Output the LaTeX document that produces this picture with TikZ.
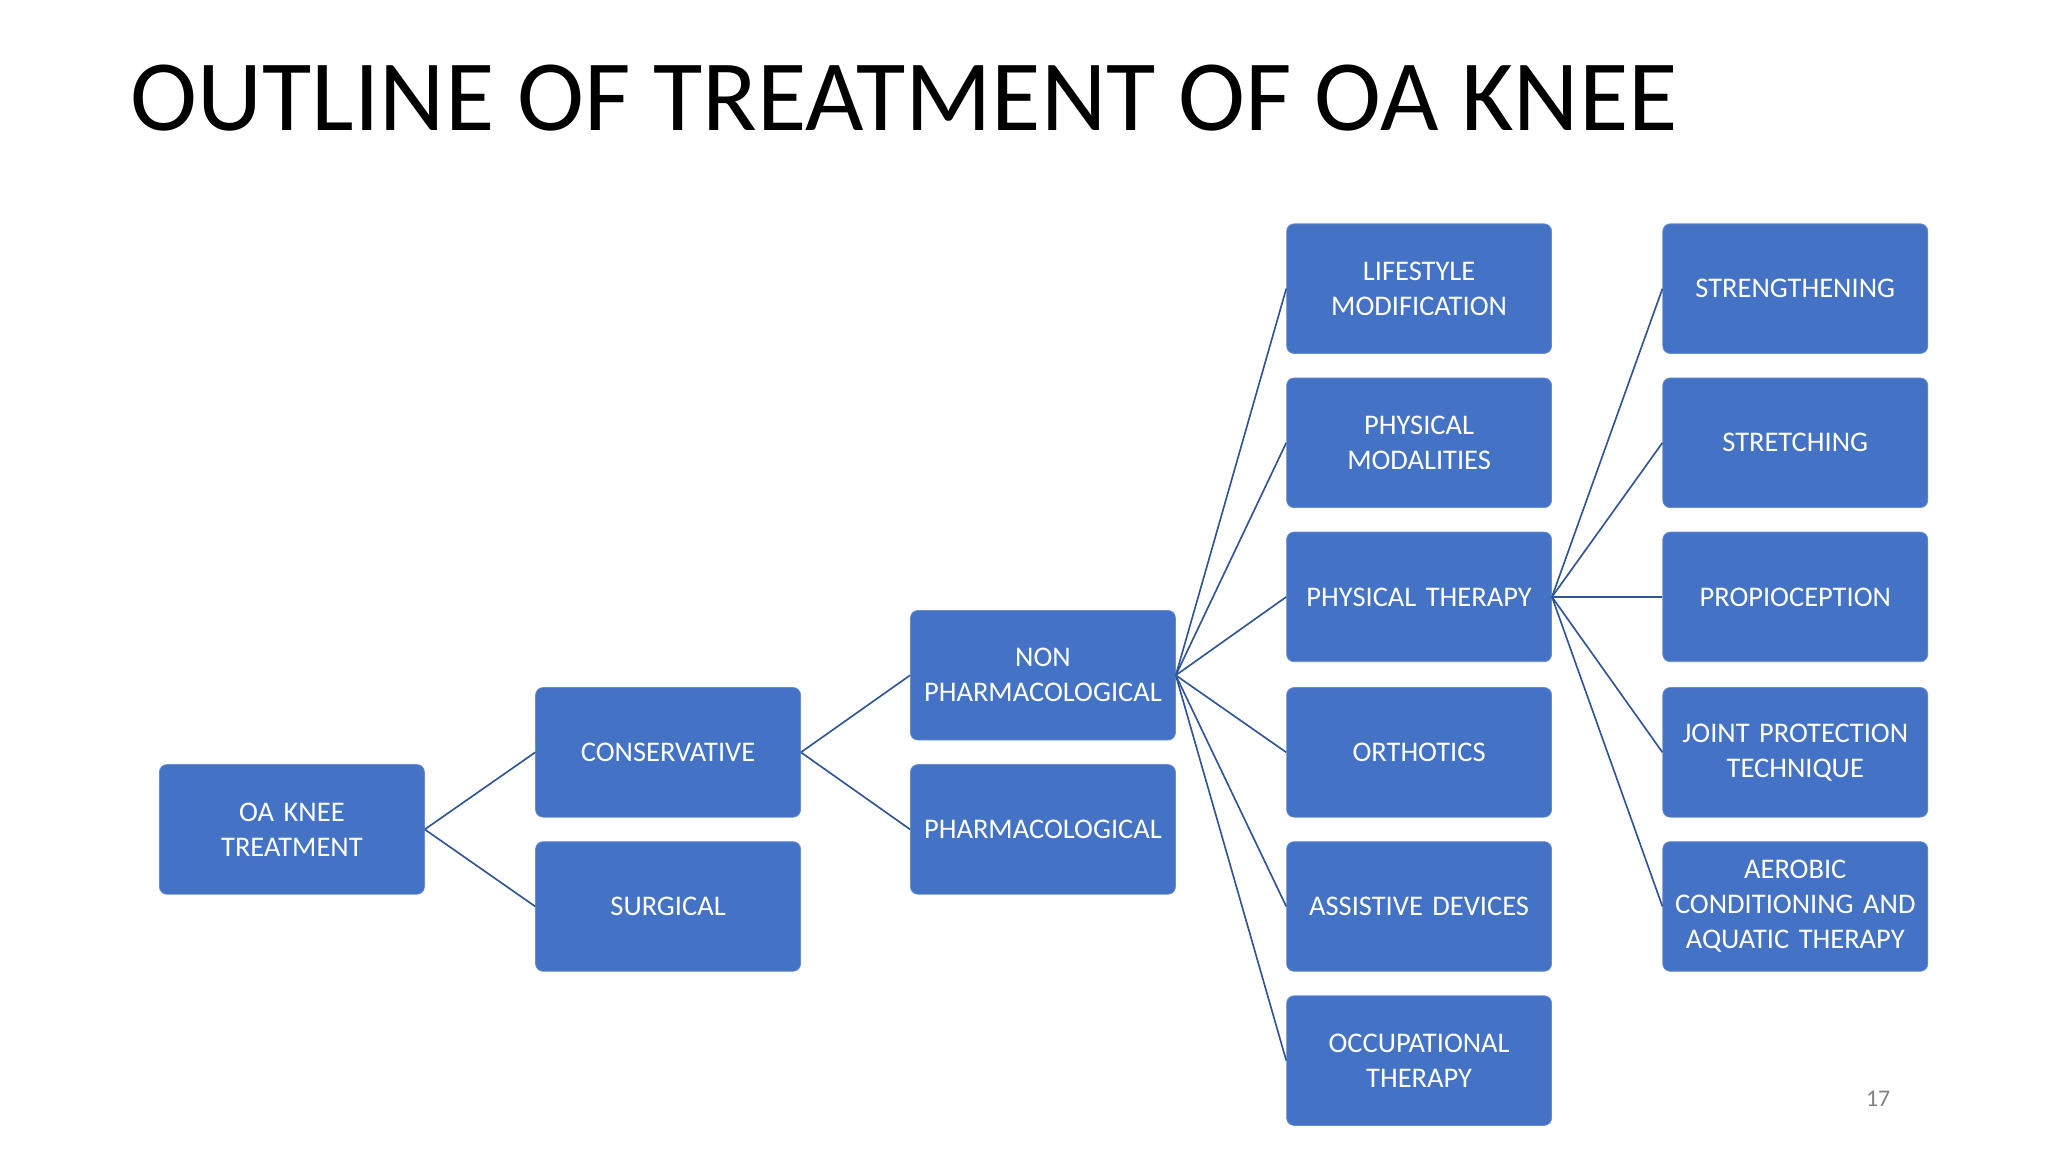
\documentclass[tikz,border=0pt]{standalone}
\usepackage{fontspec}
\setmainfont{Carlito}
\definecolor{boxblue}{HTML}{4472C4}
\definecolor{lineblue}{HTML}{2F5597}
\tikzset{
  treebox/.style={fill=boxblue, draw=boxblue!80!white, rounded corners=4pt, minimum width=5.05cm, minimum height=2.48cm, text width=5cm, align=center, text=white, font=\fontsize{15.5}{19}\selectfont, inner sep=1pt},
  branch/.style={draw=lineblue, line width=0.9pt}
}
\begin{document}
\begin{tikzpicture}[x=0.025cm, y=-0.025cm]
\useasboundingbox (0,0) rectangle (1568,882);

% Title
\node[anchor=base west, inner sep=0, font=\fontsize{55}{60}\selectfont\addfontfeature{}] (title) at (100,100) {OUTLINE OF TREATMENT OF OA KNEE};

% Level 1 and 2
\node[treebox] (oa) at (223.5,635) {OA KNEE\\TREATMENT};
\node[treebox] (cons) at (511.5,576) {CONSERVATIVE};
\node[treebox] (surg) at (511.5,694) {SURGICAL};
\node[treebox] (nonph) at (798.5,517) {NON\\PHARMACOLOGICAL};
\node[treebox] (pharm) at (798.5,635) {PHARMACOLOGICAL};

% Non pharmacological options
\node[treebox] (life) at (1086.5,221) {LIFESTYLE\\MODIFICATION};
\node[treebox] (modal) at (1086.5,339) {PHYSICAL\\MODALITIES};
\node[treebox] (pt) at (1086.5,457) {PHYSICAL THERAPY};
\node[treebox] (orth) at (1086.5,576) {ORTHOTICS};
\node[treebox] (assist) at (1086.5,694) {ASSISTIVE DEVICES};
\node[treebox] (occ) at (1086.5,812) {OCCUPATIONAL\\THERAPY};

% Physical therapy options
\node[treebox] (stren) at (1374.5,221) {STRENGTHENING};
\node[treebox] (stret) at (1374.5,339) {STRETCHING};
\node[treebox] (prop) at (1374.5,457) {PROPIOCEPTION};
\node[treebox] (joint) at (1374.5,576) {JOINT PROTECTION\\TECHNIQUE};
\node[treebox] (aero) at (1374.5,694) {AEROBIC\\CONDITIONING AND\\AQUATIC THERAPY};

% Connectors
\foreach \b in {cons, surg}
  \draw[branch] (oa.east) -- (\b.west);
\foreach \b in {nonph, pharm}
  \draw[branch] (cons.east) -- (\b.west);
\foreach \b in {life, modal, pt, orth, assist, occ}
  \draw[branch] (nonph.east) -- (\b.west);
\foreach \b in {stren, stret, prop, joint, aero}
  \draw[branch] (pt.east) -- (\b.west);

% Page number
\node[text=gray, font=\fontsize{13}{15}\selectfont] (page) at (1438,841) {17};
\end{tikzpicture}
\end{document}
